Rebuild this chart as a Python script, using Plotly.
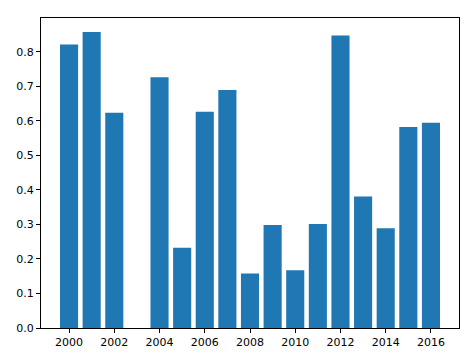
import plotly.graph_objects as go

years = [2000, 2001, 2002, 2004, 2005, 2006, 2007, 2008, 2009, 2010, 2011, 2012, 2013, 2014, 2015, 2016]
values = [0.821, 0.857, 0.623, 0.726, 0.232, 0.626, 0.689, 0.158, 0.298, 0.167, 0.301, 0.847, 0.381, 0.289, 0.582, 0.594]
xticks = [2000, 2002, 2004, 2006, 2008, 2010, 2012, 2014, 2016]
yticks = [0.0, 0.1, 0.2, 0.3, 0.4, 0.5, 0.6, 0.7, 0.8]

fig = go.Figure(go.Bar(x=years, y=values, width=0.8, marker_color="#1f77b4", marker_line_width=0))

fig.update_layout(
    width=474, height=364,
    margin=dict(l=41, r=15, t=18, b=36),
    plot_bgcolor="white", paper_bgcolor="white",
    font=dict(family="DejaVu Sans", size=11, color="black"),
    showlegend=False,
)
fig.update_xaxes(
    range=[1998.76, 2017.24], tickvals=xticks, ticktext=[str(t) for t in xticks],
    showline=True, linecolor="black", linewidth=1, mirror=True,
    ticks="outside", ticklen=4, tickcolor="black", showgrid=False, zeroline=False,
    automargin=False,
)
fig.update_yaxes(
    range=[0, 0.8975], tickvals=yticks, ticktext=[f"{t:.1f}" for t in yticks],
    showline=True, linecolor="black", linewidth=1, mirror=True,
    ticks="outside", ticklen=4, tickcolor="black", showgrid=False, zeroline=False,
    automargin=False,
)
fig.write_html(
    "out.html",
    config={"displayModeBar": False},
    post_script="document.body.style.margin='0';document.body.style.overflow='hidden';",
)
